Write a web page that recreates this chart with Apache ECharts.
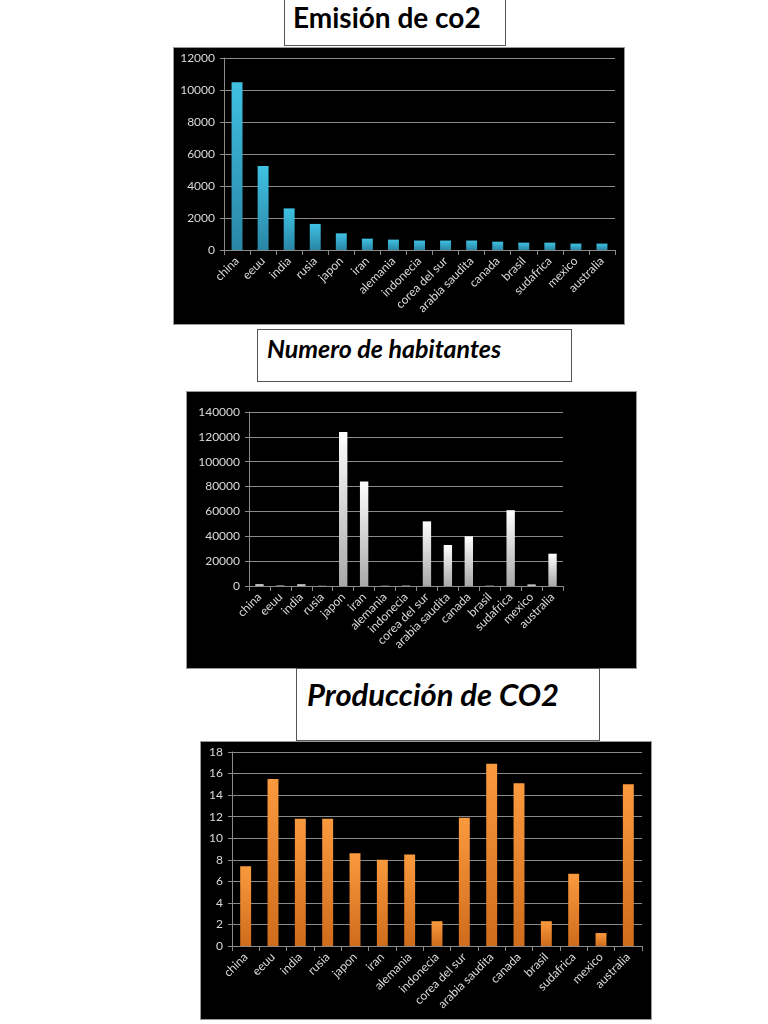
<!DOCTYPE html>
<html>
<head>
<meta charset="utf-8">
<script src="https://cdn.jsdelivr.net/npm/echarts@6/dist/echarts.min.js"></script>
<style>
  html, body { margin: 0; padding: 0; background: #ffffff; }
  body { width: 768px; height: 1024px; position: relative; overflow: hidden; }
  .panel { position: absolute; background: #000; border: 1px solid #9a9a9a; box-sizing: border-box; }
  .tbox { position: absolute; background: #fff; border: 1px solid #555; box-sizing: border-box; font-family: Lato, "Open Sans", sans-serif; font-weight: bold; color: #000; white-space: nowrap; }
  #main { position: absolute; left: 0; top: 0; width: 768px; height: 1024px; }
</style>
</head>
<body>
<div class="panel" style="left:173px;top:47px;width:452px;height:278px;"></div>
<div class="panel" style="left:186px;top:391px;width:451px;height:278px;"></div>
<div class="panel" style="left:200px;top:741px;width:452px;height:279px;"></div>

<div class="tbox" style="left:284px;top:-2px;width:222px;height:48px;">
  <span style="position:absolute;left:8px;top:1px;font-size:28px;">Emisión de co2</span>
</div>
<div class="tbox" style="left:257px;top:329px;width:315px;height:53px;">
  <span style="position:absolute;left:9px;top:3px;font-size:25px;font-style:italic;">Numero de habitantes</span>
</div>
<div class="tbox" style="left:296px;top:668px;width:304px;height:73px;">
  <span style="position:absolute;left:10px;top:6px;font-size:31px;font-style:italic;">Producción de CO2</span>
</div>

<div id="main"></div>
<script>
// paises (mismo orden en las tres graficas)
var paises = ['china', 'eeuu', 'india', 'rusia', 'japon', 'iran', 'alemania', 'indonecia',
  'corea del sur', 'arabia saudita', 'canada', 'brasil', 'sudafrica', 'mexico', 'australia'];

// Emision de co2
var emision = [10480, 5250, 2600, 1630, 1040, 710, 650, 590, 590, 590, 520, 460, 460, 400, 400];

// Numero de habitantes
var habitantes = [1400, 330, 1350, 150, 124000, 84000, 200, 270, 52000, 33000, 40000, 210, 61000, 1200, 26000];

// Produccion de CO2
var produccion = [7.4, 15.5, 11.8, 11.8, 8.6, 8.0, 8.5, 2.3, 11.9, 16.9, 15.1, 2.3, 6.7, 1.2, 15.0];

var chart = echarts.init(document.getElementById('main'), null, { renderer: 'canvas' });

var gris = '#8a8a8a';
var txt = '#d9d9d9';

function ejeX(idx) {
  return {
    type: 'category', gridIndex: idx, data: paises, boundaryGap: true,
    axisLine: { show: true, lineStyle: { color: gris, width: 1 } },
    axisTick: { show: true, interval: 0, length: 5, lineStyle: { color: gris } },
    axisLabel: { interval: 0, rotate: 45, margin: 9, color: txt, fontSize: 12, fontFamily: 'Lato' }
  };
}
function ejeY(idx, max, step) {
  return {
    type: 'value', gridIndex: idx, min: 0, max: max, interval: step,
    axisLine: { show: true, lineStyle: { color: gris, width: 1 } },
    axisTick: { show: true, length: 4, lineStyle: { color: gris } },
    axisLabel: { color: txt, fontSize: 12, fontFamily: 'Lato', margin: 9,
      formatter: function (v) { return String(v); } },
    splitLine: { show: true, lineStyle: { color: gris, width: 1 } }
  };
}
function grad(c1, c2) {
  return { type: 'linear', x: 0, y: 0, x2: 0, y2: 1, colorStops: [{ offset: 0, color: c1 }, { offset: 1, color: c2 }] };
}

var option = {
  backgroundColor: 'transparent',
  animation: false,
  grid: [
    { left: 224, top: 58, width: 391, height: 192 },
    { left: 249, top: 412, width: 314, height: 174 },
    { left: 232, top: 752, width: 410, height: 194 }
  ],
  xAxis: [ejeX(0), ejeX(1), ejeX(2)],
  yAxis: [ejeY(0, 12000, 2000), ejeY(1, 140000, 20000), ejeY(2, 18, 2)],
  series: [
    { type: 'bar', xAxisIndex: 0, yAxisIndex: 0, data: emision, barWidth: '42%',
      itemStyle: { color: grad('#3fc1e2', '#2a86a6') } },
    { type: 'bar', xAxisIndex: 1, yAxisIndex: 1, data: habitantes, barWidth: '40%',
      itemStyle: { color: grad('#ffffff', '#a8a8a8') } },
    { type: 'bar', xAxisIndex: 2, yAxisIndex: 2, data: produccion, barWidth: '40%',
      itemStyle: { color: grad('#fa9a3e', '#cf6c1c') } }
  ]
};

chart.setOption(option);
</script>
</body>
</html>
